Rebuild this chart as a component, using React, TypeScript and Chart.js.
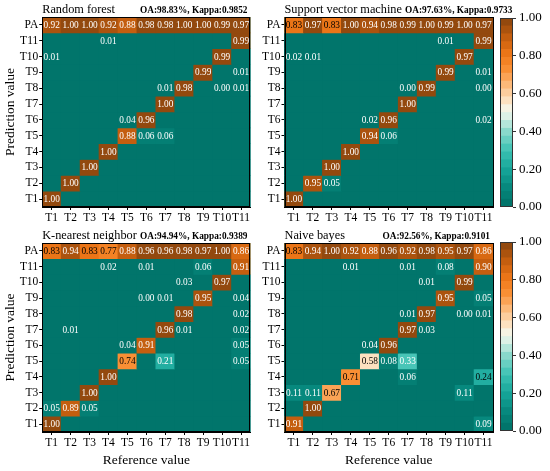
import React, { useEffect, useRef } from "react";
import { Chart, registerables } from "chart.js";

Chart.register(...registerables);

const _ = null;

// Columns (reference classes) and rows (prediction classes, top to bottom)
const columnLabels = ["T1", "T2", "T3", "T4", "T5", "T6", "T7", "T8", "T9", "T10", "T11"];
const rowLabels = ["PA", "T11", "T10", "T9", "T8", "T7", "T6", "T5", "T4", "T3", "T2", "T1"];

const rfValues: (number | null)[][] = [
  [0.92, 1.0, 1.0, 0.92, 0.88, 0.98, 0.98, 1.0, 1.0, 0.99, 0.97],
  [_, _, _, 0.01, _, _, _, _, _, _, 0.99],
  [0.01, _, _, _, _, _, _, _, _, 0.99, _],
  [_, _, _, _, _, _, _, _, 0.99, _, 0.01],
  [_, _, _, _, _, _, 0.01, 0.98, _, 0.0, 0.01],
  [_, _, _, _, _, _, 1.0, _, _, _, _],
  [_, _, _, _, 0.04, 0.96, _, _, _, _, _],
  [_, _, _, _, 0.88, 0.06, 0.06, _, _, _, _],
  [_, _, _, 1.0, _, _, _, _, _, _, _],
  [_, _, 1.0, _, _, _, _, _, _, _, _],
  [_, 1.0, _, _, _, _, _, _, _, _, _],
  [1.0, _, _, _, _, _, _, _, _, _, _],
];

const svmValues: (number | null)[][] = [
  [0.83, 0.97, 0.83, 1.0, 0.94, 0.98, 0.99, 1.0, 0.99, 1.0, 0.97],
  [_, _, _, _, _, _, _, _, 0.01, _, 0.99],
  [0.02, 0.01, _, _, _, _, _, _, _, 0.97, _],
  [_, _, _, _, _, _, _, _, 0.99, _, 0.01],
  [_, _, _, _, _, _, 0.0, 0.99, _, _, 0.0],
  [_, _, _, _, _, _, 1.0, _, _, _, _],
  [_, _, _, _, 0.02, 0.96, _, _, _, _, 0.02],
  [_, _, _, _, 0.94, 0.06, _, _, _, _, _],
  [_, _, _, 1.0, _, _, _, _, _, _, _],
  [_, _, 1.0, _, _, _, _, _, _, _, _],
  [_, 0.95, 0.05, _, _, _, _, _, _, _, _],
  [1.0, _, _, _, _, _, _, _, _, _, _],
];

const knnValues: (number | null)[][] = [
  [0.83, 0.94, 0.83, 0.77, 0.88, 0.96, 0.96, 0.98, 0.97, 1.0, 0.86],
  [_, _, _, 0.02, _, 0.01, _, _, 0.06, _, 0.91],
  [_, _, _, _, _, _, _, 0.03, _, 0.97, _],
  [_, _, _, _, _, 0.0, 0.01, _, 0.95, _, 0.04],
  [_, _, _, _, _, _, _, 0.98, _, _, 0.02],
  [_, 0.01, _, _, _, _, 0.96, 0.01, _, _, 0.02],
  [_, _, _, _, 0.04, 0.91, _, _, _, _, 0.05],
  [_, _, _, _, 0.74, _, 0.21, _, _, _, 0.05],
  [_, _, _, 1.0, _, _, _, _, _, _, _],
  [_, _, 1.0, _, _, _, _, _, _, _, _],
  [0.05, 0.89, 0.05, _, _, _, _, _, _, _, _],
  [1.0, _, _, _, _, _, _, _, _, _, _],
];

const nbValues: (number | null)[][] = [
  [0.83, 0.94, 1.0, 0.92, 0.88, 0.96, 0.92, 0.98, 0.95, 0.97, 0.86],
  [_, _, _, 0.01, _, _, 0.01, _, 0.08, _, 0.9],
  [_, _, _, _, _, _, _, 0.01, _, 0.99, _],
  [_, _, _, _, _, _, _, _, 0.95, _, 0.05],
  [_, _, _, _, _, _, 0.01, 0.97, _, 0.0, 0.01],
  [_, _, _, _, _, _, 0.97, 0.03, _, _, _],
  [_, _, _, _, 0.04, 0.96, _, _, _, _, _],
  [_, _, _, _, 0.58, 0.08, 0.33, _, _, _, _],
  [_, _, _, 0.71, _, _, 0.06, _, _, _, 0.24],
  [0.11, 0.11, 0.67, _, _, _, _, _, _, 0.11, _],
  [_, 1.0, _, _, _, _, _, _, _, _, _],
  [0.91, _, _, _, _, _, _, _, _, _, 0.09],
];

const panelTitles = ["Random forest", "Support vector machine", "K-nearest neighbor", "Naive bayes"];
const panelScores = [
  "OA:98.83%, Kappa:0.9852",
  "OA:97.63%, Kappa:0.9733",
  "OA:94.94%, Kappa:0.9389",
  "OA:92.56%, Kappa:0.9101",
];
const xAxisTitle = "Reference value";
const yAxisTitle = "Prediction value";
const colorbarTickValues = [0, 0.2, 0.4, 0.6, 0.8, 1.0];

// ---------------- colour map ----------------
const colorStops: [number, number[]][] = [
  [0.0, [0, 112, 102]],
  [0.1, [6, 136, 125]],
  [0.2, [22, 166, 153]],
  [0.3, [62, 194, 180]],
  [0.4, [140, 218, 204]],
  [0.47, [215, 240, 230]],
  [0.52, [246, 243, 228]],
  [0.56, [252, 226, 194]],
  [0.6, [252, 207, 160]],
  [0.65, [252, 183, 118]],
  [0.72, [250, 146, 56]],
  [0.8, [240, 121, 25]],
  [0.88, [205, 98, 15]],
  [0.94, [170, 82, 14]],
  [1.0, [135, 68, 14]],
];
const LEVELS = 24;

function interpColor(v: number): string {
  const t = Math.max(0, Math.min(1, v));
  for (let i = 1; i < colorStops.length; i++) {
    const [p1, c1] = colorStops[i];
    const [p0, c0] = colorStops[i - 1];
    if (t <= p1) {
      const f = (t - p0) / (p1 - p0);
      const c = c0.map((x, k) => Math.round(x + (c1[k] - x) * f));
      return `rgb(${c[0]},${c[1]},${c[2]})`;
    }
  }
  const c = colorStops[colorStops.length - 1][1];
  return `rgb(${c[0]},${c[1]},${c[2]})`;
}

function levelColor(v: number): string {
  const q = Math.min(LEVELS - 1, Math.floor(v * LEVELS));
  return interpColor((q + 0.5) / LEVELS);
}

function labelColor(v: number): string {
  if ((v >= 0.5 && v < 0.85) || (v > 0.22 && v < 0.3)) return "#000";
  return "#fff";
}

const FONT = '"Liberation Serif", "Times New Roman", serif';

type Layout = {
  left: number;
  top: number;
  width: number;
  height: number;
  padTop: number;
  padRight: number;
  yAxisWidth: number;
  xAxisHeight: number;
  showYTitle: boolean;
  showXTitle: boolean;
};

function Heatmap({ values, title, score, layout }: { values: (number | null)[][]; title: string; score: string; layout: Layout }) {
  const ref = useRef<HTMLCanvasElement>(null);
  useEffect(() => {
    if (!ref.current) return;
    const nRows = rowLabels.length;
    const bottomUp = [...rowLabels].reverse();
    const datasets = values.map((row, r) => {
      const yIdx = nRows - 1 - r;
      return {
        label: rowLabels[r],
        data: row.map(() => [yIdx - 0.5, yIdx + 0.5]),
        backgroundColor: row.map((v) => levelColor(v ?? 0)),
        borderWidth: 0,
        barPercentage: 1,
        categoryPercentage: 1,
        grouped: false,
      };
    });

    const cellPlugin = {
      id: "cells",
      beforeDatasetsDraw(chart: any) {
        const { ctx, chartArea } = chart;
        ctx.save();
        ctx.fillStyle = levelColor(0);
        ctx.fillRect(chartArea.left, chartArea.top, chartArea.right - chartArea.left, chartArea.bottom - chartArea.top);
        ctx.restore();
      },
      afterDatasetsDraw(chart: any) {
        const { ctx } = chart;
        ctx.save();
        ctx.font = `9.3px ${FONT}`;
        ctx.textAlign = "center";
        ctx.textBaseline = "middle";
        values.forEach((row, r) => {
          const meta = chart.getDatasetMeta(r);
          row.forEach((v, c) => {
            if (v === null) return;
            const el: any = meta.data[c];
            const y = (el.y + el.base) / 2;
            ctx.fillStyle = labelColor(v);
            ctx.fillText(v.toFixed(2), el.x, y + 0.5);
          });
        });
        ctx.restore();
      },
      afterDraw(chart: any) {
        const { ctx, chartArea } = chart;
        ctx.save();
        ctx.strokeStyle = "#000";
        ctx.lineWidth = 1;
        ctx.strokeRect(
          Math.round(chartArea.left) + 0.5,
          Math.round(chartArea.top) + 0.5,
          Math.round(chartArea.right - chartArea.left) - 1,
          Math.round(chartArea.bottom - chartArea.top) - 1
        );
        // titles
        ctx.fillStyle = "#000";
        ctx.textBaseline = "alphabetic";
        ctx.textAlign = "left";
        ctx.font = `12.3px ${FONT}`;
        const baseY = chartArea.top - 4;
        ctx.fillText(title, chartArea.left, baseY);
        const titleEnd = chartArea.left + ctx.measureText(title).width;
        ctx.font = `bold 9.3px ${FONT}`;
        const sw = ctx.measureText(score).width;
        const sx = Math.max(chartArea.right - 3 - sw, titleEnd + 3);
        ctx.fillText(score, sx, baseY);
        ctx.restore();
      },
    };

    const chart = new Chart(ref.current, {
      type: "bar",
      data: { labels: columnLabels, datasets: datasets as any },
      options: {
        animation: false,
        responsive: false,
        devicePixelRatio: 1,
        layout: { padding: { top: layout.padTop, right: layout.padRight, left: 0, bottom: 0 } },
        plugins: { legend: { display: false }, tooltip: { enabled: false } },
        scales: {
          x: {
            type: "category",
            offset: true,
            grid: { display: true, drawOnChartArea: false, offset: false, tickLength: 3, color: "#000" },
            border: { display: true, color: "#000" },
            ticks: { color: "#000", font: { family: FONT, size: 11.5 }, padding: 1, maxRotation: 0, autoSkip: false },
            title: {
              display: layout.showXTitle,
              text: xAxisTitle,
              color: "#000",
              font: { family: FONT, size: 13.5 },
              padding: { top: 0, bottom: 2 },
            },
            afterFit: (s: any) => {
              s.height = layout.xAxisHeight;
            },
          },
          y: {
            type: "linear",
            min: -0.5,
            max: nRows - 0.5,
            afterBuildTicks: (s: any) => {
              s.ticks = bottomUp.map((_l, i) => ({ value: i }));
            },
            grid: { display: true, drawOnChartArea: false, tickLength: 3, color: "#000" },
            border: { display: true, color: "#000" },
            ticks: {
              color: "#000",
              font: { family: FONT, size: 11.5 },
              padding: 1,
              autoSkip: false,
              callback: (v: any) => bottomUp[Math.round(Number(v))] ?? "",
            },
            title: {
              display: layout.showYTitle,
              text: yAxisTitle,
              color: "#000",
              font: { family: FONT, size: 13.5 },
              padding: { top: 2, bottom: 0 },
            },
            afterFit: (s: any) => {
              s.width = layout.yAxisWidth;
            },
          },
        },
      },
      plugins: [cellPlugin],
    } as any);
    return () => chart.destroy();
  }, [values, title, score, layout]);

  return (
    <canvas
      ref={ref}
      width={layout.width}
      height={layout.height}
      style={{ position: "absolute", left: layout.left, top: layout.top, width: layout.width, height: layout.height }}
    />
  );
}

function Colorbar({ left, top, width, height, padTop, padBottom }: { left: number; top: number; width: number; height: number; padTop: number; padBottom: number }) {
  const ref = useRef<HTMLCanvasElement>(null);
  useEffect(() => {
    if (!ref.current) return;
    const bands = Array.from({ length: LEVELS }, (_v, i) => i);
    const datasets = bands.map((i) => ({
      data: [[i / LEVELS, (i + 1) / LEVELS]],
      backgroundColor: interpColor((i + 0.5) / LEVELS),
      borderWidth: 0,
      barPercentage: 1,
      categoryPercentage: 1,
      grouped: false,
    }));
    const borderPlugin = {
      id: "cbBorder",
      afterDraw(chart: any) {
        const { ctx, chartArea } = chart;
        ctx.save();
        ctx.strokeStyle = "#333";
        ctx.lineWidth = 1;
        ctx.strokeRect(
          Math.round(chartArea.left) + 0.5,
          Math.round(chartArea.top) + 0.5,
          Math.round(chartArea.right - chartArea.left) - 1,
          Math.round(chartArea.bottom - chartArea.top) - 1
        );
        ctx.restore();
      },
    };
    const chart = new Chart(ref.current, {
      type: "bar",
      data: { labels: [""], datasets: datasets as any },
      options: {
        animation: false,
        responsive: false,
        devicePixelRatio: 1,
        layout: { padding: { top: padTop, bottom: padBottom, left: 5, right: 0 } },
        plugins: { legend: { display: false }, tooltip: { enabled: false } },
        scales: {
          x: { display: false },
          y: {
            position: "right",
            min: 0,
            max: 1,
            afterBuildTicks: (s: any) => {
              s.ticks = colorbarTickValues.map((v) => ({ value: v }));
            },
            grid: { display: true, drawOnChartArea: false, tickLength: 3, color: "#333" },
            border: { display: false },
            ticks: {
              color: "#000",
              font: { family: FONT, size: 13 },
              padding: 3,
              callback: (v: any) => Number(v).toFixed(2),
            },
            afterFit: (s: any) => {
              s.width = width - 18;
            },
          },
        },
      },
      plugins: [borderPlugin],
    } as any);
    return () => chart.destroy();
  }, [left, top, width, height, padTop, padBottom]);
  return (
    <canvas
      ref={ref}
      width={width}
      height={height}
      style={{ position: "absolute", left, top, width, height }}
    />
  );
}

const layouts: Layout[] = [
  { left: 0, top: 0, width: 255, height: 235, padTop: 17, padRight: 4.5, yAxisWidth: 42.2, xAxisHeight: 28, showYTitle: true, showXTitle: false },
  { left: 255, top: 0, width: 295, height: 235, padTop: 17, padRight: 57, yAxisWidth: 29.5, xAxisHeight: 28, showYTitle: false, showXTitle: false },
  { left: 0, top: 228, width: 255, height: 243, padTop: 15, padRight: 4.5, yAxisWidth: 42.2, xAxisHeight: 39, showYTitle: true, showXTitle: true },
  { left: 255, top: 228, width: 295, height: 243, padTop: 15, padRight: 57, yAxisWidth: 29.5, xAxisHeight: 39, showYTitle: false, showXTitle: true },
];

const panelValues = [rfValues, svmValues, knnValues, nbValues];

export default function App() {
  return (
    <div style={{ position: "fixed", left: 0, top: 0, width: 550, height: 471, background: "#fff", overflow: "hidden" }}>
      {panelValues.map((vals, i) => (
        <Heatmap key={i} values={vals} title={panelTitles[i]} score={panelScores[i]} layout={layouts[i]} />
      ))}
      <Colorbar left={495} top={0} width={55} height={235} padTop={18} padBottom={28} />
      <Colorbar left={495} top={228} width={55} height={243} padTop={14} padBottom={40} />
    </div>
  );
}
